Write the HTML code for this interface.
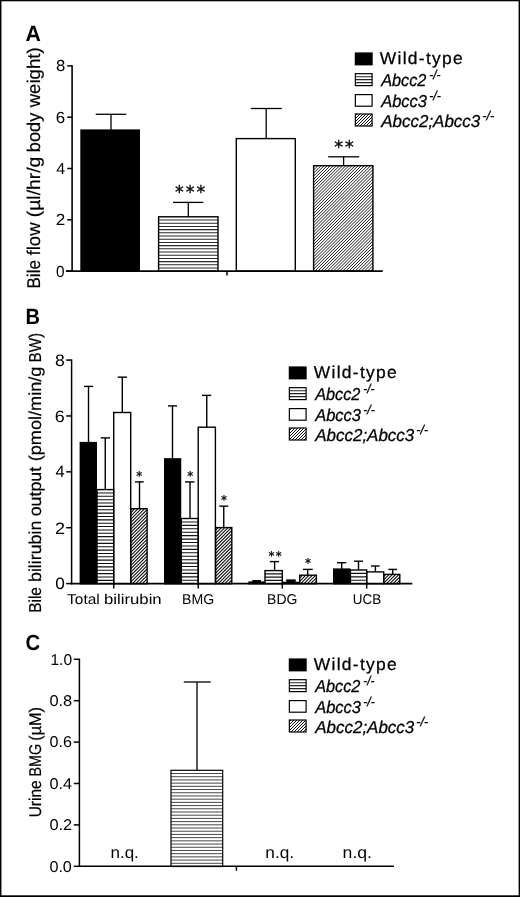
<!DOCTYPE html>
<html lang="en"><head><meta charset="utf-8"><title>Figure</title>
<style>html,body{margin:0;padding:0;background:#fff}svg{display:block;text-rendering:geometricPrecision}.L{stroke:#000;stroke-width:0.28px}.T{stroke:#000;stroke-width:0.2px}.S{stroke:#000;stroke-width:0.3px}.S2{stroke:#000;stroke-width:0.3px}</style>
</head><body>
<svg width="520" height="897" viewBox="0 0 520 897" font-family='"Liberation Sans", sans-serif' fill="#000">
<rect x="0" y="0" width="520" height="897" fill="#fff"/>
<rect x="0" y="0" width="520" height="1.3" fill="#000"/><rect x="0" y="0" width="1.45" height="897" fill="#000"/><rect x="518.6" y="0" width="1.4" height="897" fill="#000"/><rect x="0" y="895.3" width="520" height="1.7" fill="#000"/>
<text id="pA" x="25.58" y="41.02" font-size="22" font-weight="bold" textLength="15.34" lengthAdjust="spacingAndGlyphs">A</text>
<line x1="72.1" y1="65.15000000000003" x2="72.1" y2="271.85" stroke="#000" stroke-width="1.6"/>
<line x1="65.9" y1="271.1" x2="382.7" y2="271.1" stroke="#000" stroke-width="1.6"/>
<line x1="67.2" y1="271.1" x2="72.1" y2="271.1" stroke="#000" stroke-width="1.5"/>
<text id="kA0" x="55.96" y="276.71" font-size="16" textLength="8.56" lengthAdjust="spacingAndGlyphs">0</text>
<line x1="67.2" y1="219.8" x2="72.1" y2="219.8" stroke="#000" stroke-width="1.5"/>
<text id="kA2" x="55.68" y="225.33" font-size="16" textLength="9.49" lengthAdjust="spacingAndGlyphs">2</text>
<line x1="67.2" y1="168.50000000000003" x2="72.1" y2="168.50000000000003" stroke="#000" stroke-width="1.5"/>
<text id="kA4" x="56.17" y="174.34" font-size="16" textLength="8.95" lengthAdjust="spacingAndGlyphs">4</text>
<line x1="67.2" y1="117.20000000000005" x2="72.1" y2="117.20000000000005" stroke="#000" stroke-width="1.5"/>
<text id="kA6" x="55.73" y="122.87" font-size="16" textLength="9.39" lengthAdjust="spacingAndGlyphs">6</text>
<line x1="67.2" y1="65.90000000000003" x2="72.1" y2="65.90000000000003" stroke="#000" stroke-width="1.5"/>
<text id="kA8" x="55.90" y="71.22" font-size="16" textLength="9.33" lengthAdjust="spacingAndGlyphs">8</text>
<line x1="227" y1="271.1" x2="227" y2="275.6" stroke="#000" stroke-width="1.5"/>
<rect x="80.30" y="129.40" width="59.70" height="142.50" fill="#000"/>
<path d="M158.60,220.00H218.00M158.60,223.20H218.00M158.60,226.40H218.00M158.60,229.60H218.00M158.60,232.80H218.00M158.60,236.00H218.00M158.60,239.20H218.00M158.60,242.40H218.00M158.60,245.60H218.00M158.60,248.80H218.00M158.60,252.00H218.00M158.60,255.20H218.00M158.60,258.40H218.00M158.60,261.60H218.00M158.60,264.80H218.00M158.60,268.00H218.00" stroke="#2a2a2a" stroke-width="1.05" fill="none"/>
<rect x="158.60" y="216.80" width="59.40" height="54.40" fill="none" stroke="#000" stroke-width="1.4"/>
<rect x="236.30" y="138.60" width="59.00" height="132.60" fill="none" stroke="#000" stroke-width="1.4"/>
<path d="M313.60,166.90L314.80,165.70M313.60,170.00L317.90,165.70M313.60,173.10L321.00,165.70M313.60,176.20L324.10,165.70M313.60,179.30L327.20,165.70M313.60,182.40L330.30,165.70M313.60,185.50L333.40,165.70M313.60,188.60L336.50,165.70M313.60,191.70L339.60,165.70M313.60,194.80L342.70,165.70M313.60,197.90L345.80,165.70M313.60,201.00L348.90,165.70M313.60,204.10L352.00,165.70M313.60,207.20L355.10,165.70M313.60,210.30L358.20,165.70M313.60,213.40L361.30,165.70M313.60,216.50L364.40,165.70M313.60,219.60L367.50,165.70M313.60,222.70L370.60,165.70M313.60,225.80L372.90,166.50M313.60,228.90L372.90,169.60M313.60,232.00L372.90,172.70M313.60,235.10L372.90,175.80M313.60,238.20L372.90,178.90M313.60,241.30L372.90,182.00M313.60,244.40L372.90,185.10M313.60,247.50L372.90,188.20M313.60,250.60L372.90,191.30M313.60,253.70L372.90,194.40M313.60,256.80L372.90,197.50M313.60,259.90L372.90,200.60M313.60,263.00L372.90,203.70M313.60,266.10L372.90,206.80M313.60,269.20L372.90,209.90M314.70,271.20L372.90,213.00M317.80,271.20L372.90,216.10M320.90,271.20L372.90,219.20M324.00,271.20L372.90,222.30M327.10,271.20L372.90,225.40M330.20,271.20L372.90,228.50M333.30,271.20L372.90,231.60M336.40,271.20L372.90,234.70M339.50,271.20L372.90,237.80M342.60,271.20L372.90,240.90M345.70,271.20L372.90,244.00M348.80,271.20L372.90,247.10M351.90,271.20L372.90,250.20M355.00,271.20L372.90,253.30M358.10,271.20L372.90,256.40M361.20,271.20L372.90,259.50M364.30,271.20L372.90,262.60M367.40,271.20L372.90,265.70M370.50,271.20L372.90,268.80" stroke="#111" stroke-width="0.95" fill="none"/>
<rect x="313.60" y="165.70" width="59.30" height="105.50" fill="none" stroke="#000" stroke-width="1.4"/>
<line x1="111" y1="114.3" x2="111" y2="130" stroke="#000" stroke-width="1.3"/>
<line x1="95.7" y1="114.3" x2="126.3" y2="114.3" stroke="#000" stroke-width="1.3"/>
<line x1="188.3" y1="202.4" x2="188.3" y2="217" stroke="#000" stroke-width="1.3"/>
<line x1="173" y1="202.4" x2="203.3" y2="202.4" stroke="#000" stroke-width="1.3"/>
<line x1="266.2" y1="108.5" x2="266.2" y2="139" stroke="#000" stroke-width="1.3"/>
<line x1="250.8" y1="108.5" x2="281.8" y2="108.5" stroke="#000" stroke-width="1.3"/>
<line x1="343.6" y1="156.8" x2="343.6" y2="166" stroke="#000" stroke-width="1.3"/>
<line x1="328.2" y1="156.8" x2="359.2" y2="156.8" stroke="#000" stroke-width="1.3"/>
<text x="191.2" y="197.5" class="S" font-family="DejaVu Sans, sans-serif" font-size="17.5" text-anchor="middle" letter-spacing="2.1">***</text>
<text x="345.0" y="152.9" class="S" font-family="DejaVu Sans, sans-serif" font-size="17.5" text-anchor="middle" letter-spacing="2.1">**</text>
<text id="tA0" x="40.20" y="288.48" font-size="18.4" class="T" textLength="28.40" lengthAdjust="spacingAndGlyphs" transform="rotate(-90 40.20 288.48)">Bile</text>
<text id="tA1" x="40.20" y="255.42" font-size="18.4" class="T" textLength="32.95" lengthAdjust="spacingAndGlyphs" transform="rotate(-90 40.20 255.42)">flow</text>
<text id="tA2" x="40.20" y="217.24" font-size="18.4" class="T" textLength="60.64" lengthAdjust="spacingAndGlyphs" transform="rotate(-90 40.20 217.24)">(µl/hr/g</text>
<text id="tA3" x="40.20" y="152.19" font-size="18.4" class="T" textLength="39.45" lengthAdjust="spacingAndGlyphs" transform="rotate(-90 40.20 152.19)">body</text>
<text id="tA4" x="40.20" y="107.35" font-size="18.4" class="T" textLength="59.97" lengthAdjust="spacingAndGlyphs" transform="rotate(-90 40.20 107.35)">weight)</text>
<rect x="354.75" y="52.40" width="17.95" height="13.00" fill="#000"/>
<path d="M355.35,76.68H372.10M355.35,79.65H372.10M355.35,82.62H372.10" stroke="#222" stroke-width="1.1" fill="none"/>
<rect x="355.35" y="73.70" width="16.75" height="11.90" fill="none" stroke="#000" stroke-width="1.2"/>
<rect x="355.35" y="94.60" width="16.75" height="11.60" fill="none" stroke="#000" stroke-width="1.2"/>
<path d="M355.35,115.65L357.00,114.00M355.35,118.65L360.00,114.00M355.35,121.65L363.00,114.00M355.35,124.65L366.00,114.00M357.00,126.00L369.00,114.00M360.00,126.00L372.00,114.00M363.00,126.00L372.10,116.90M366.00,126.00L372.10,119.90M369.00,126.00L372.10,122.90M372.00,126.00L372.10,125.90" stroke="#111" stroke-width="1.0" fill="none"/>
<rect x="355.35" y="114.00" width="16.75" height="12.00" fill="none" stroke="#000" stroke-width="1.2"/>
<text id="LAt0" x="379.76" y="64.40" font-size="17.2" class="L" letter-spacing="1.3" textLength="84.31" lengthAdjust="spacingAndGlyphs">Wild-type</text>
<text id="LAt1" x="381.15" y="86.40" font-size="17.2" class="L" font-style="italic" textLength="45.27" lengthAdjust="spacingAndGlyphs">Abcc2</text>
<text id="LAt2" x="381.24" y="106.50" font-size="17.2" class="L" font-style="italic" textLength="45.76" lengthAdjust="spacingAndGlyphs">Abcc3</text>
<text id="LAt3" x="381.27" y="126.70" font-size="17.2" class="L" font-style="italic" textLength="99.01" lengthAdjust="spacingAndGlyphs">Abcc2;Abcc3</text>
<text id="LAs1" x="429.25" y="79.36" font-size="12.8" class="L" font-style="italic" textLength="11.27" lengthAdjust="spacingAndGlyphs">-/-</text>
<text id="LAs2" x="429.24" y="100.14" font-size="12.8" class="L" font-style="italic" textLength="11.67" lengthAdjust="spacingAndGlyphs">-/-</text>
<text id="LAs3" x="482.32" y="119.85" font-size="12.8" class="L" font-style="italic" textLength="11.98" lengthAdjust="spacingAndGlyphs">-/-</text>
<text id="pB" x="25.62" y="324.18" font-size="22" font-weight="bold" textLength="14.46" lengthAdjust="spacingAndGlyphs">B</text>
<line x1="71.6" y1="359.33000000000004" x2="71.6" y2="584.35" stroke="#000" stroke-width="1.5"/>
<line x1="70.8" y1="583.6" x2="412.3" y2="583.6" stroke="#000" stroke-width="1.6"/>
<line x1="66.2" y1="583.6" x2="71.6" y2="583.6" stroke="#000" stroke-width="1.5"/>
<text id="kB0" x="55.22" y="589.47" font-size="16.5" textLength="9.61" lengthAdjust="spacingAndGlyphs">0</text>
<line x1="66.2" y1="527.72" x2="71.6" y2="527.72" stroke="#000" stroke-width="1.5"/>
<text id="kB2" x="54.97" y="533.90" font-size="16.5" textLength="10.02" lengthAdjust="spacingAndGlyphs">2</text>
<line x1="66.2" y1="471.84000000000003" x2="71.6" y2="471.84000000000003" stroke="#000" stroke-width="1.5"/>
<text id="kB4" x="55.56" y="477.39" font-size="16.5" textLength="9.13" lengthAdjust="spacingAndGlyphs">4</text>
<line x1="66.2" y1="415.96000000000004" x2="71.6" y2="415.96000000000004" stroke="#000" stroke-width="1.5"/>
<text id="kB6" x="54.87" y="421.67" font-size="16.5" textLength="10.01" lengthAdjust="spacingAndGlyphs">6</text>
<line x1="66.2" y1="360.08000000000004" x2="71.6" y2="360.08000000000004" stroke="#000" stroke-width="1.5"/>
<text id="kB8" x="55.14" y="365.88" font-size="16.5" textLength="9.82" lengthAdjust="spacingAndGlyphs">8</text>
<line x1="113.75" y1="583.6" x2="113.75" y2="588.6" stroke="#000" stroke-width="1.5"/>
<line x1="198.25" y1="583.6" x2="198.25" y2="588.6" stroke="#000" stroke-width="1.5"/>
<line x1="282.3" y1="583.6" x2="282.3" y2="588.6" stroke="#000" stroke-width="1.5"/>
<line x1="366.7" y1="583.6" x2="366.7" y2="588.6" stroke="#000" stroke-width="1.5"/>
<rect x="79.60" y="441.90" width="17.40" height="142.50" fill="#000"/>
<line x1="88.5" y1="386.4" x2="88.5" y2="442.6" stroke="#000" stroke-width="1.4"/>
<line x1="84" y1="386.4" x2="93.2" y2="386.4" stroke="#000" stroke-width="1.4"/>
<path d="M97.00,492.96H113.70M97.00,496.32H113.70M97.00,499.68H113.70M97.00,503.04H113.70M97.00,506.40H113.70M97.00,509.76H113.70M97.00,513.12H113.70M97.00,516.49H113.70M97.00,519.85H113.70M97.00,523.21H113.70M97.00,526.57H113.70M97.00,529.93H113.70M97.00,533.29H113.70M97.00,536.65H113.70M97.00,540.01H113.70M97.00,543.37H113.70M97.00,546.73H113.70M97.00,550.09H113.70M97.00,553.45H113.70M97.00,556.81H113.70M97.00,560.17H113.70M97.00,563.54H113.70M97.00,566.90H113.70M97.00,570.26H113.70M97.00,573.62H113.70M97.00,576.98H113.70M97.00,580.34H113.70" stroke="#111" stroke-width="1.1" fill="none"/>
<rect x="97.00" y="489.60" width="16.70" height="94.10" fill="none" stroke="#000" stroke-width="1.4"/>
<line x1="105.25" y1="437.9" x2="105.25" y2="489.6" stroke="#000" stroke-width="1.4"/>
<line x1="100.75" y1="437.9" x2="110" y2="437.9" stroke="#000" stroke-width="1.4"/>
<rect x="113.70" y="412.50" width="17.00" height="171.20" fill="none" stroke="#000" stroke-width="1.4"/>
<line x1="122.3" y1="377.15" x2="122.3" y2="412.5" stroke="#000" stroke-width="1.4"/>
<line x1="117.7" y1="377.15" x2="127" y2="377.15" stroke="#000" stroke-width="1.4"/>
<path d="M130.70,509.50L131.50,508.70M130.70,512.80L134.80,508.70M130.70,516.10L138.10,508.70M130.70,519.40L141.40,508.70M130.70,522.70L144.70,508.70M130.70,526.00L147.10,509.60M130.70,529.30L147.10,512.90M130.70,532.60L147.10,516.20M130.70,535.90L147.10,519.50M130.70,539.20L147.10,522.80M130.70,542.50L147.10,526.10M130.70,545.80L147.10,529.40M130.70,549.10L147.10,532.70M130.70,552.40L147.10,536.00M130.70,555.70L147.10,539.30M130.70,559.00L147.10,542.60M130.70,562.30L147.10,545.90M130.70,565.60L147.10,549.20M130.70,568.90L147.10,552.50M130.70,572.20L147.10,555.80M130.70,575.50L147.10,559.10M130.70,578.80L147.10,562.40M130.70,582.10L147.10,565.70M132.40,583.70L147.10,569.00M135.70,583.70L147.10,572.30M139.00,583.70L147.10,575.60M142.30,583.70L147.10,578.90M145.60,583.70L147.10,582.20" stroke="#111" stroke-width="1.1" fill="none"/>
<rect x="130.70" y="508.70" width="16.40" height="75.00" fill="none" stroke="#000" stroke-width="1.4"/>
<line x1="139.5" y1="481.9" x2="139.5" y2="508.70000000000005" stroke="#000" stroke-width="1.4"/>
<line x1="135" y1="481.9" x2="143.75" y2="481.9" stroke="#000" stroke-width="1.4"/>
<rect x="164.00" y="458.15" width="17.25" height="126.25" fill="#000"/>
<line x1="172.5" y1="405.9" x2="172.5" y2="458.85" stroke="#000" stroke-width="1.4"/>
<line x1="168" y1="405.9" x2="177" y2="405.9" stroke="#000" stroke-width="1.4"/>
<path d="M181.25,521.93H198.20M181.25,525.36H198.20M181.25,528.79H198.20M181.25,532.23H198.20M181.25,535.66H198.20M181.25,539.09H198.20M181.25,542.52H198.20M181.25,545.95H198.20M181.25,549.38H198.20M181.25,552.82H198.20M181.25,556.25H198.20M181.25,559.68H198.20M181.25,563.11H198.20M181.25,566.54H198.20M181.25,569.97H198.20M181.25,573.41H198.20M181.25,576.84H198.20M181.25,580.27H198.20" stroke="#111" stroke-width="1.1" fill="none"/>
<rect x="181.25" y="518.50" width="16.95" height="65.20" fill="none" stroke="#000" stroke-width="1.4"/>
<line x1="190" y1="481.9" x2="190" y2="518.5" stroke="#000" stroke-width="1.4"/>
<line x1="185" y1="481.9" x2="194.5" y2="481.9" stroke="#000" stroke-width="1.4"/>
<rect x="198.20" y="427.20" width="17.20" height="156.50" fill="none" stroke="#000" stroke-width="1.4"/>
<line x1="206.75" y1="395.4" x2="206.75" y2="427.20000000000005" stroke="#000" stroke-width="1.4"/>
<line x1="202" y1="395.4" x2="211.25" y2="395.4" stroke="#000" stroke-width="1.4"/>
<path d="M215.60,530.20L218.20,527.60M215.60,533.50L221.50,527.60M215.60,536.80L224.80,527.60M215.60,540.10L228.10,527.60M215.60,543.40L231.40,527.60M215.60,546.70L231.80,530.50M215.60,550.00L231.80,533.80M215.60,553.30L231.80,537.10M215.60,556.60L231.80,540.40M215.60,559.90L231.80,543.70M215.60,563.20L231.80,547.00M215.60,566.50L231.80,550.30M215.60,569.80L231.80,553.60M215.60,573.10L231.80,556.90M215.60,576.40L231.80,560.20M215.60,579.70L231.80,563.50M215.60,583.00L231.80,566.80M218.20,583.70L231.80,570.10M221.50,583.70L231.80,573.40M224.80,583.70L231.80,576.70M228.10,583.70L231.80,580.00M231.40,583.70L231.80,583.30" stroke="#111" stroke-width="1.1" fill="none"/>
<rect x="215.60" y="527.60" width="16.20" height="56.10" fill="none" stroke="#000" stroke-width="1.4"/>
<line x1="223.75" y1="506.15" x2="223.75" y2="527.6" stroke="#000" stroke-width="1.4"/>
<line x1="219.25" y1="506.15" x2="228.25" y2="506.15" stroke="#000" stroke-width="1.4"/>
<rect x="248.30" y="581.40" width="16.70" height="3.00" fill="#000"/>
<line x1="256.7" y1="580.8" x2="256.7" y2="582.1" stroke="#000" stroke-width="1.4"/>
<line x1="252.5" y1="580.8" x2="261" y2="580.8" stroke="#000" stroke-width="1.4"/>
<rect x="252.5" y="580.10" width="8.50" height="2.80" fill="#000"/>
<path d="M265.00,573.88H282.30M265.00,577.15H282.30M265.00,580.42H282.30" stroke="#111" stroke-width="1.1" fill="none"/>
<rect x="265.00" y="570.60" width="17.30" height="13.10" fill="none" stroke="#000" stroke-width="1.4"/>
<line x1="274.6" y1="561.6" x2="274.6" y2="570.6" stroke="#000" stroke-width="1.4"/>
<line x1="269.8" y1="561.6" x2="279" y2="561.6" stroke="#000" stroke-width="1.4"/>
<rect x="282.30" y="582.40" width="16.70" height="1.30" fill="none" stroke="#000" stroke-width="1.4"/>
<line x1="290.9" y1="580.3" x2="290.9" y2="582.4" stroke="#000" stroke-width="1.4"/>
<line x1="286.3" y1="580.3" x2="295.6" y2="580.3" stroke="#000" stroke-width="1.4"/>
<rect x="286.3" y="579.60" width="9.30" height="3.30" fill="#000"/>
<path d="M299.70,578.10L302.60,575.20M299.70,581.40L305.90,575.20M300.70,583.70L309.20,575.20M304.00,583.70L312.50,575.20M307.30,583.70L315.80,575.20M310.60,583.70L316.40,577.90M313.90,583.70L316.40,581.20" stroke="#111" stroke-width="1.1" fill="none"/>
<rect x="299.70" y="575.20" width="16.70" height="8.50" fill="none" stroke="#000" stroke-width="1.4"/>
<line x1="307.7" y1="569.4" x2="307.7" y2="575.2" stroke="#000" stroke-width="1.4"/>
<line x1="303" y1="569.4" x2="312.7" y2="569.4" stroke="#000" stroke-width="1.4"/>
<rect x="333.00" y="568.40" width="17.40" height="16.00" fill="#000"/>
<line x1="341.7" y1="562.6999999999999" x2="341.7" y2="569.1" stroke="#000" stroke-width="1.4"/>
<line x1="337" y1="562.6999999999999" x2="346.3" y2="562.6999999999999" stroke="#000" stroke-width="1.4"/>
<path d="M350.40,573.42H366.70M350.40,576.85H366.70M350.40,580.27H366.70" stroke="#111" stroke-width="1.1" fill="none"/>
<rect x="350.40" y="570.00" width="16.30" height="13.70" fill="none" stroke="#000" stroke-width="1.4"/>
<line x1="358.5" y1="561.1999999999999" x2="358.5" y2="570.0" stroke="#000" stroke-width="1.4"/>
<line x1="354" y1="561.1999999999999" x2="363" y2="561.1999999999999" stroke="#000" stroke-width="1.4"/>
<rect x="366.70" y="571.90" width="17.00" height="11.80" fill="none" stroke="#000" stroke-width="1.4"/>
<line x1="375.4" y1="566.0" x2="375.4" y2="571.9" stroke="#000" stroke-width="1.4"/>
<line x1="371" y1="566.0" x2="379.6" y2="566.0" stroke="#000" stroke-width="1.4"/>
<path d="M383.70,576.60L385.90,574.40M383.70,579.90L389.20,574.40M383.70,583.20L392.50,574.40M386.50,583.70L395.80,574.40M389.80,583.70L399.10,574.40M393.10,583.70L399.80,577.00M396.40,583.70L399.80,580.30M399.70,583.70L399.80,583.60" stroke="#111" stroke-width="1.1" fill="none"/>
<rect x="383.70" y="574.40" width="16.10" height="9.30" fill="none" stroke="#000" stroke-width="1.4"/>
<line x1="392.7" y1="569.4" x2="392.7" y2="574.4" stroke="#000" stroke-width="1.4"/>
<line x1="388.3" y1="569.4" x2="397" y2="569.4" stroke="#000" stroke-width="1.4"/>
<text x="139.1" y="479.9" class="S2" font-family="DejaVu Sans, sans-serif" font-size="11.8" text-anchor="middle">*</text>
<text x="190.25" y="479.7" class="S2" font-family="DejaVu Sans, sans-serif" font-size="11.8" text-anchor="middle">*</text>
<text x="224" y="503.5" class="S2" font-family="DejaVu Sans, sans-serif" font-size="11.8" text-anchor="middle">*</text>
<text x="275.65" y="559.6" class="S2" font-family="DejaVu Sans, sans-serif" font-size="11.8" text-anchor="middle" letter-spacing="1.3">**</text>
<text x="308" y="566.8" class="S2" font-family="DejaVu Sans, sans-serif" font-size="11.8" text-anchor="middle">*</text>
<text id="xl0" x="67.08" y="603.77" font-size="14.2" textLength="32.65" lengthAdjust="spacingAndGlyphs">Total</text>
<text id="xl1" x="104.06" y="603.77" font-size="14.2" textLength="57.64" lengthAdjust="spacingAndGlyphs">bilirubin</text>
<text id="xl2" x="182.01" y="603.67" font-size="14.2" textLength="32.13" lengthAdjust="spacingAndGlyphs">BMG</text>
<text id="xl3" x="267.12" y="603.67" font-size="14.2" textLength="30.31" lengthAdjust="spacingAndGlyphs">BDG</text>
<text id="xl4" x="352.85" y="603.63" font-size="14.2" textLength="28.40" lengthAdjust="spacingAndGlyphs">UCB</text>
<text id="tB0" x="40.80" y="612.86" font-size="17.3" class="T" textLength="25.87" lengthAdjust="spacingAndGlyphs" transform="rotate(-90 40.80 612.86)">Bile</text>
<text id="tB1" x="40.80" y="582.00" font-size="17.3" class="T" textLength="61.41" lengthAdjust="spacingAndGlyphs" transform="rotate(-90 40.80 582.00)">bilirubin</text>
<text id="tB2" x="40.80" y="516.33" font-size="17.3" class="T" textLength="49.55" lengthAdjust="spacingAndGlyphs" transform="rotate(-90 40.80 516.33)">output</text>
<text id="tB3" x="40.80" y="461.25" font-size="17.3" class="T" textLength="94.70" lengthAdjust="spacingAndGlyphs" transform="rotate(-90 40.80 461.25)">(pmol/min/g</text>
<text id="tB4" x="40.80" y="362.39" font-size="17.3" class="T" textLength="29.48" lengthAdjust="spacingAndGlyphs" transform="rotate(-90 40.80 362.39)">BW)</text>
<rect x="288.75" y="366.40" width="17.95" height="13.00" fill="#000"/>
<path d="M289.35,390.68H306.10M289.35,393.65H306.10M289.35,396.62H306.10" stroke="#222" stroke-width="1.1" fill="none"/>
<rect x="289.35" y="387.70" width="16.75" height="11.90" fill="none" stroke="#000" stroke-width="1.2"/>
<rect x="289.35" y="408.60" width="16.75" height="11.60" fill="none" stroke="#000" stroke-width="1.2"/>
<path d="M289.35,430.65L292.00,428.00M289.35,433.65L295.00,428.00M289.35,436.65L298.00,428.00M289.35,439.65L301.00,428.00M292.00,440.00L304.00,428.00M295.00,440.00L306.10,428.90M298.00,440.00L306.10,431.90M301.00,440.00L306.10,434.90M304.00,440.00L306.10,437.90" stroke="#111" stroke-width="1.0" fill="none"/>
<rect x="289.35" y="428.00" width="16.75" height="12.00" fill="none" stroke="#000" stroke-width="1.2"/>
<text id="LBt0" x="313.76" y="378.40" font-size="17.2" class="L" letter-spacing="1.3" textLength="84.31" lengthAdjust="spacingAndGlyphs">Wild-type</text>
<text id="LBt1" x="315.15" y="400.40" font-size="17.2" class="L" font-style="italic" textLength="45.27" lengthAdjust="spacingAndGlyphs">Abcc2</text>
<text id="LBt2" x="315.24" y="420.50" font-size="17.2" class="L" font-style="italic" textLength="45.76" lengthAdjust="spacingAndGlyphs">Abcc3</text>
<text id="LBt3" x="315.27" y="440.70" font-size="17.2" class="L" font-style="italic" textLength="99.01" lengthAdjust="spacingAndGlyphs">Abcc2;Abcc3</text>
<text id="LBs1" x="363.25" y="393.36" font-size="12.8" class="L" font-style="italic" textLength="11.27" lengthAdjust="spacingAndGlyphs">-/-</text>
<text id="LBs2" x="363.24" y="414.14" font-size="12.8" class="L" font-style="italic" textLength="11.67" lengthAdjust="spacingAndGlyphs">-/-</text>
<text id="LBs3" x="416.32" y="433.85" font-size="12.8" class="L" font-style="italic" textLength="11.98" lengthAdjust="spacingAndGlyphs">-/-</text>
<text id="pC" x="25.45" y="650.09" font-size="22" font-weight="bold" textLength="14.64" lengthAdjust="spacingAndGlyphs">C</text>
<line x1="79.4" y1="658.55" x2="79.4" y2="867.05" stroke="#000" stroke-width="1.5"/>
<line x1="78.60000000000001" y1="866.3" x2="394" y2="866.3" stroke="#000" stroke-width="1.6"/>
<line x1="73.8" y1="866.3" x2="79.4" y2="866.3" stroke="#000" stroke-width="1.5"/>
<text id="kC0" x="49.41" y="871.73" font-size="15.6" textLength="22.45" lengthAdjust="spacingAndGlyphs">0.0</text>
<line x1="73.8" y1="824.9" x2="79.4" y2="824.9" stroke="#000" stroke-width="1.5"/>
<text id="kC1" x="49.46" y="830.06" font-size="15.6" textLength="22.79" lengthAdjust="spacingAndGlyphs">0.2</text>
<line x1="73.8" y1="783.5" x2="79.4" y2="783.5" stroke="#000" stroke-width="1.5"/>
<text id="kC2" x="49.41" y="788.81" font-size="15.6" textLength="22.59" lengthAdjust="spacingAndGlyphs">0.4</text>
<line x1="73.8" y1="742.0999999999999" x2="79.4" y2="742.0999999999999" stroke="#000" stroke-width="1.5"/>
<text id="kC3" x="49.47" y="747.48" font-size="15.6" textLength="22.47" lengthAdjust="spacingAndGlyphs">0.6</text>
<line x1="73.8" y1="700.6999999999999" x2="79.4" y2="700.6999999999999" stroke="#000" stroke-width="1.5"/>
<text id="kC4" x="49.41" y="706.32" font-size="15.6" textLength="22.83" lengthAdjust="spacingAndGlyphs">0.8</text>
<line x1="73.8" y1="659.3" x2="79.4" y2="659.3" stroke="#000" stroke-width="1.5"/>
<text id="kC5" x="50.42" y="664.80" font-size="15.6" textLength="21.67" lengthAdjust="spacingAndGlyphs">1.0</text>
<line x1="236.4" y1="866.3" x2="236.4" y2="870.7" stroke="#000" stroke-width="1.5"/>
<path d="M171.00,773.51H222.70M171.00,776.71H222.70M171.00,779.92H222.70M171.00,783.13H222.70M171.00,786.33H222.70M171.00,789.54H222.70M171.00,792.75H222.70M171.00,795.95H222.70M171.00,799.16H222.70M171.00,802.37H222.70M171.00,805.57H222.70M171.00,808.78H222.70M171.00,811.99H222.70M171.00,815.19H222.70M171.00,818.40H222.70M171.00,821.61H222.70M171.00,824.81H222.70M171.00,828.02H222.70M171.00,831.23H222.70M171.00,834.43H222.70M171.00,837.64H222.70M171.00,840.85H222.70M171.00,844.05H222.70M171.00,847.26H222.70M171.00,850.47H222.70M171.00,853.67H222.70M171.00,856.88H222.70M171.00,860.09H222.70M171.00,863.29H222.70" stroke="#333" stroke-width="0.9" fill="none"/>
<rect x="171.00" y="770.30" width="51.70" height="96.20" fill="none" stroke="#000" stroke-width="1.2"/>
<line x1="197" y1="682" x2="197" y2="770.5" stroke="#000" stroke-width="1.3"/>
<line x1="183.75" y1="682" x2="210.75" y2="682" stroke="#000" stroke-width="1.3"/>
<text id="nq0" x="110.46" y="858.41" font-size="16.4" textLength="28.40" lengthAdjust="spacingAndGlyphs">n.q.</text>
<text id="nq1" x="265.31" y="858.27" font-size="16.4" textLength="28.79" lengthAdjust="spacingAndGlyphs">n.q.</text>
<text id="nq2" x="342.57" y="858.41" font-size="16.4" textLength="29.45" lengthAdjust="spacingAndGlyphs">n.q.</text>
<text id="tC0" x="40.60" y="817.30" font-size="17" class="T" textLength="36.84" lengthAdjust="spacingAndGlyphs" transform="rotate(-90 40.60 817.30)">Urine</text>
<text id="tC1" x="40.60" y="776.59" font-size="17" class="T" textLength="32.77" lengthAdjust="spacingAndGlyphs" transform="rotate(-90 40.60 776.59)">BMG</text>
<text id="tC2" x="40.60" y="740.66" font-size="17" class="T" textLength="33.59" lengthAdjust="spacingAndGlyphs" transform="rotate(-90 40.60 740.66)">(µM)</text>
<rect x="288.75" y="658.40" width="17.95" height="13.00" fill="#000"/>
<path d="M289.35,682.68H306.10M289.35,685.65H306.10M289.35,688.62H306.10" stroke="#222" stroke-width="1.1" fill="none"/>
<rect x="289.35" y="679.70" width="16.75" height="11.90" fill="none" stroke="#000" stroke-width="1.2"/>
<rect x="289.35" y="700.60" width="16.75" height="11.60" fill="none" stroke="#000" stroke-width="1.2"/>
<path d="M289.35,721.65L291.00,720.00M289.35,724.65L294.00,720.00M289.35,727.65L297.00,720.00M289.35,730.65L300.00,720.00M291.00,732.00L303.00,720.00M294.00,732.00L306.00,720.00M297.00,732.00L306.10,722.90M300.00,732.00L306.10,725.90M303.00,732.00L306.10,728.90M306.00,732.00L306.10,731.90" stroke="#111" stroke-width="1.0" fill="none"/>
<rect x="289.35" y="720.00" width="16.75" height="12.00" fill="none" stroke="#000" stroke-width="1.2"/>
<text id="LCt0" x="313.76" y="670.40" font-size="17.2" class="L" letter-spacing="1.3" textLength="84.31" lengthAdjust="spacingAndGlyphs">Wild-type</text>
<text id="LCt1" x="315.15" y="692.40" font-size="17.2" class="L" font-style="italic" textLength="45.27" lengthAdjust="spacingAndGlyphs">Abcc2</text>
<text id="LCt2" x="315.24" y="712.50" font-size="17.2" class="L" font-style="italic" textLength="45.76" lengthAdjust="spacingAndGlyphs">Abcc3</text>
<text id="LCt3" x="315.27" y="732.70" font-size="17.2" class="L" font-style="italic" textLength="99.01" lengthAdjust="spacingAndGlyphs">Abcc2;Abcc3</text>
<text id="LCs1" x="363.25" y="685.36" font-size="12.8" class="L" font-style="italic" textLength="11.27" lengthAdjust="spacingAndGlyphs">-/-</text>
<text id="LCs2" x="363.24" y="706.14" font-size="12.8" class="L" font-style="italic" textLength="11.67" lengthAdjust="spacingAndGlyphs">-/-</text>
<text id="LCs3" x="416.32" y="725.85" font-size="12.8" class="L" font-style="italic" textLength="11.98" lengthAdjust="spacingAndGlyphs">-/-</text>
</svg>
</body></html>
